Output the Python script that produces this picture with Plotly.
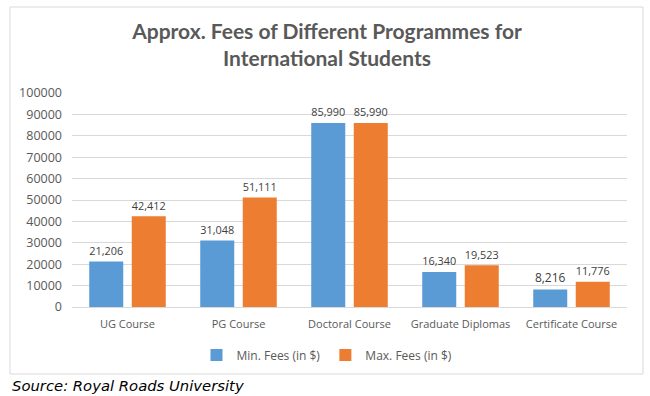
import plotly.graph_objects as go

categories = ["UG Course", "PG Course", "Doctoral Course", "Graduate Diplomas", "Certificate Course"]
min_fees = [21206, 31048, 85990, 16340, 8216]
max_fees = [42412, 51111, 85990, 19523, 11776]
series_names = ["Min. Fees (in $)", "Max. Fees (in $)"]
tick_vals = list(range(0, 100001, 10000))
tick_text = [str(v) for v in tick_vals]

W, H = 650, 396
L, R, T, B = 72, 23, 93, 89
pw, ph = W - L - R, H - T - B

def px_x(x):
    return (x - L) / pw

def px_y(y):
    return (H - B - y) / ph

fig = go.Figure()
fig.add_trace(go.Bar(
    x=categories, y=min_fees, name=series_names[0],
    marker=dict(color="#5B9BD5", line=dict(width=0)),
    text=[f"{v:,}" for v in min_fees], textposition="outside",
    textfont=dict(family="Open Sans", size=12, color="#404040"),
    cliponaxis=False,
))
fig.add_trace(go.Bar(
    x=categories, y=max_fees, name=series_names[1],
    marker=dict(color="#ED7D31", line=dict(width=0)),
    text=[f"{v:,}" for v in max_fees], textposition="outside",
    textfont=dict(family="Open Sans", size=12, color="#404040"),
    cliponaxis=False,
))

fig.update_layout(
    width=W, height=H,
    margin=dict(l=L, r=R, t=T, b=B, pad=0),
    paper_bgcolor="white", plot_bgcolor="white",
    barmode="group", bargap=0.234, bargroupgap=0.2,
    font=dict(family="Open Sans", color="#595959"),
    title=dict(
        text="Approx. Fees of Different Programmes for<br>International Students",
        font=dict(family="Lato", size=21, color="#595959", weight="bold"),
        x=327 / W, xanchor="center", xref="container",
        y=1 - 39 / H, yanchor="middle", yref="container",
    ),
    showlegend=True,
    legend=dict(
        orientation="h", x=px_x(327), xanchor="center",
        y=px_y(355), yanchor="middle",
        font=dict(family="Open Sans", size=12, color="#595959"),
        itemsizing="constant", traceorder="normal",
        bgcolor="rgba(0,0,0,0)",
    ),
)
fig.update_xaxes(
    showgrid=False, showline=True, linecolor="#d9d9d9", linewidth=1,
    ticks="", ticklabelstandoff=7,
    tickfont=dict(family="Open Sans", size=11, color="#595959"),
    fixedrange=True,
)
fig.update_yaxes(
    range=[0, 100000], tickvals=tick_vals, ticktext=tick_text,
    showgrid=True, gridcolor="#d9d9d9", gridwidth=1,
    zeroline=False, showline=False, ticks="", ticklabelstandoff=9,
    tickfont=dict(family="Open Sans", size=12.5, color="#595959"),
    fixedrange=True,
)

fig.add_shape(
    type="rect", xref="paper", yref="paper",
    x0=px_x(10), x1=px_x(643), y0=px_y(374), y1=px_y(7),
    line=dict(color="#d9d9d9", width=1), fillcolor="rgba(0,0,0,0)", layer="below",
)
fig.add_annotation(
    text="Source: Royal Roads University", xref="paper", yref="paper",
    x=px_x(10), y=px_y(385), xanchor="left", yanchor="middle", showarrow=False,
    font=dict(family="DejaVu Sans", size=14.8, color="#000000", style="italic"),
)

fig.write_html(
    "out.html",
    config={"displayModeBar": False},
    post_script="document.body.style.margin='0';",
)
